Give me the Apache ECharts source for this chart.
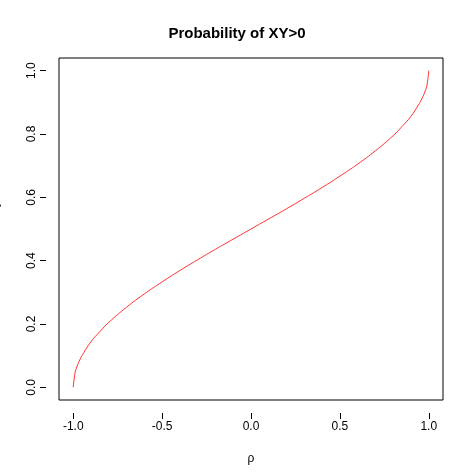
<!DOCTYPE html><html><head><meta charset="utf-8">
<script src="https://cdn.jsdelivr.net/npm/echarts@6/dist/echarts.min.js"></script>
<style>html,body{margin:0;background:#fff}#c{width:474px;height:474px}</style></head><body><div id="c"></div>
<script>
const rho=[-1,-0.99,-0.98,-0.96,-0.94,-0.9,-0.85,-0.8,-0.7,-0.6,-0.5,-0.4,-0.3,-0.2,-0.1,0,0.1,0.2,0.3,0.4,0.5,0.6,0.7,0.8,0.85,0.9,0.94,0.96,0.98,0.99,1];
const prob=[0,0.045,0.064,0.09,0.11,0.144,0.176,0.205,0.253,0.295,0.333,0.369,0.403,0.436,0.468,0.5,0.532,0.564,0.597,0.631,0.667,0.705,0.747,0.795,0.824,0.856,0.89,0.91,0.936,0.955,1];
const xTicks=[-1,-0.5,0,0.5,1];
const yTicks=[0,0.2,0.4,0.6,0.8,1];
const f=v=>v.toFixed(1);
const ch=echarts.init(document.getElementById('c'));
ch.setOption({animation:false,
title:{text:'Probability of XY>0',left:'center',top:21,textStyle:{fontFamily:'Liberation Sans',fontSize:15,fontWeight:'bold',color:'#000'}},
grid:{left:59,right:31,top:58,bottom:74,show:true,borderColor:'#000',borderWidth:1,containLabel:false,outerBoundsMode:'none'},
xAxis:{type:'value',min:-1.08,max:1.08,name:'ρ',nameLocation:'middle',nameGap:40,nameTextStyle:{fontFamily:'Liberation Sans',fontSize:12,color:'#000'},
 axisLine:{show:false,onZero:false},splitLine:{show:false},offset:13,
 axisTick:{customValues:xTicks,length:6,lineStyle:{color:'#000'}},
 axisLabel:{customValues:xTicks,formatter:f,color:'#000',fontFamily:'Liberation Sans',fontSize:12,margin:8}},
yAxis:{type:'value',min:-0.04,max:1.04,name:'Probability',nameLocation:'middle',nameGap:45,nameTextStyle:{fontFamily:'Liberation Sans',fontSize:12,color:'#000'},
 axisLine:{show:false,onZero:false},splitLine:{show:false},offset:13,
 axisTick:{customValues:yTicks,length:6,lineStyle:{color:'#000'}},
 axisLabel:{customValues:yTicks,formatter:f,rotate:90,color:'#000',fontFamily:'Liberation Sans',fontSize:12,margin:8}},
series:[{type:'line',data:rho.map((r,i)=>[r,prob[i]]),smooth:true,showSymbol:false,lineStyle:{color:'#ff3030',width:1}}]});
</script></body></html>
